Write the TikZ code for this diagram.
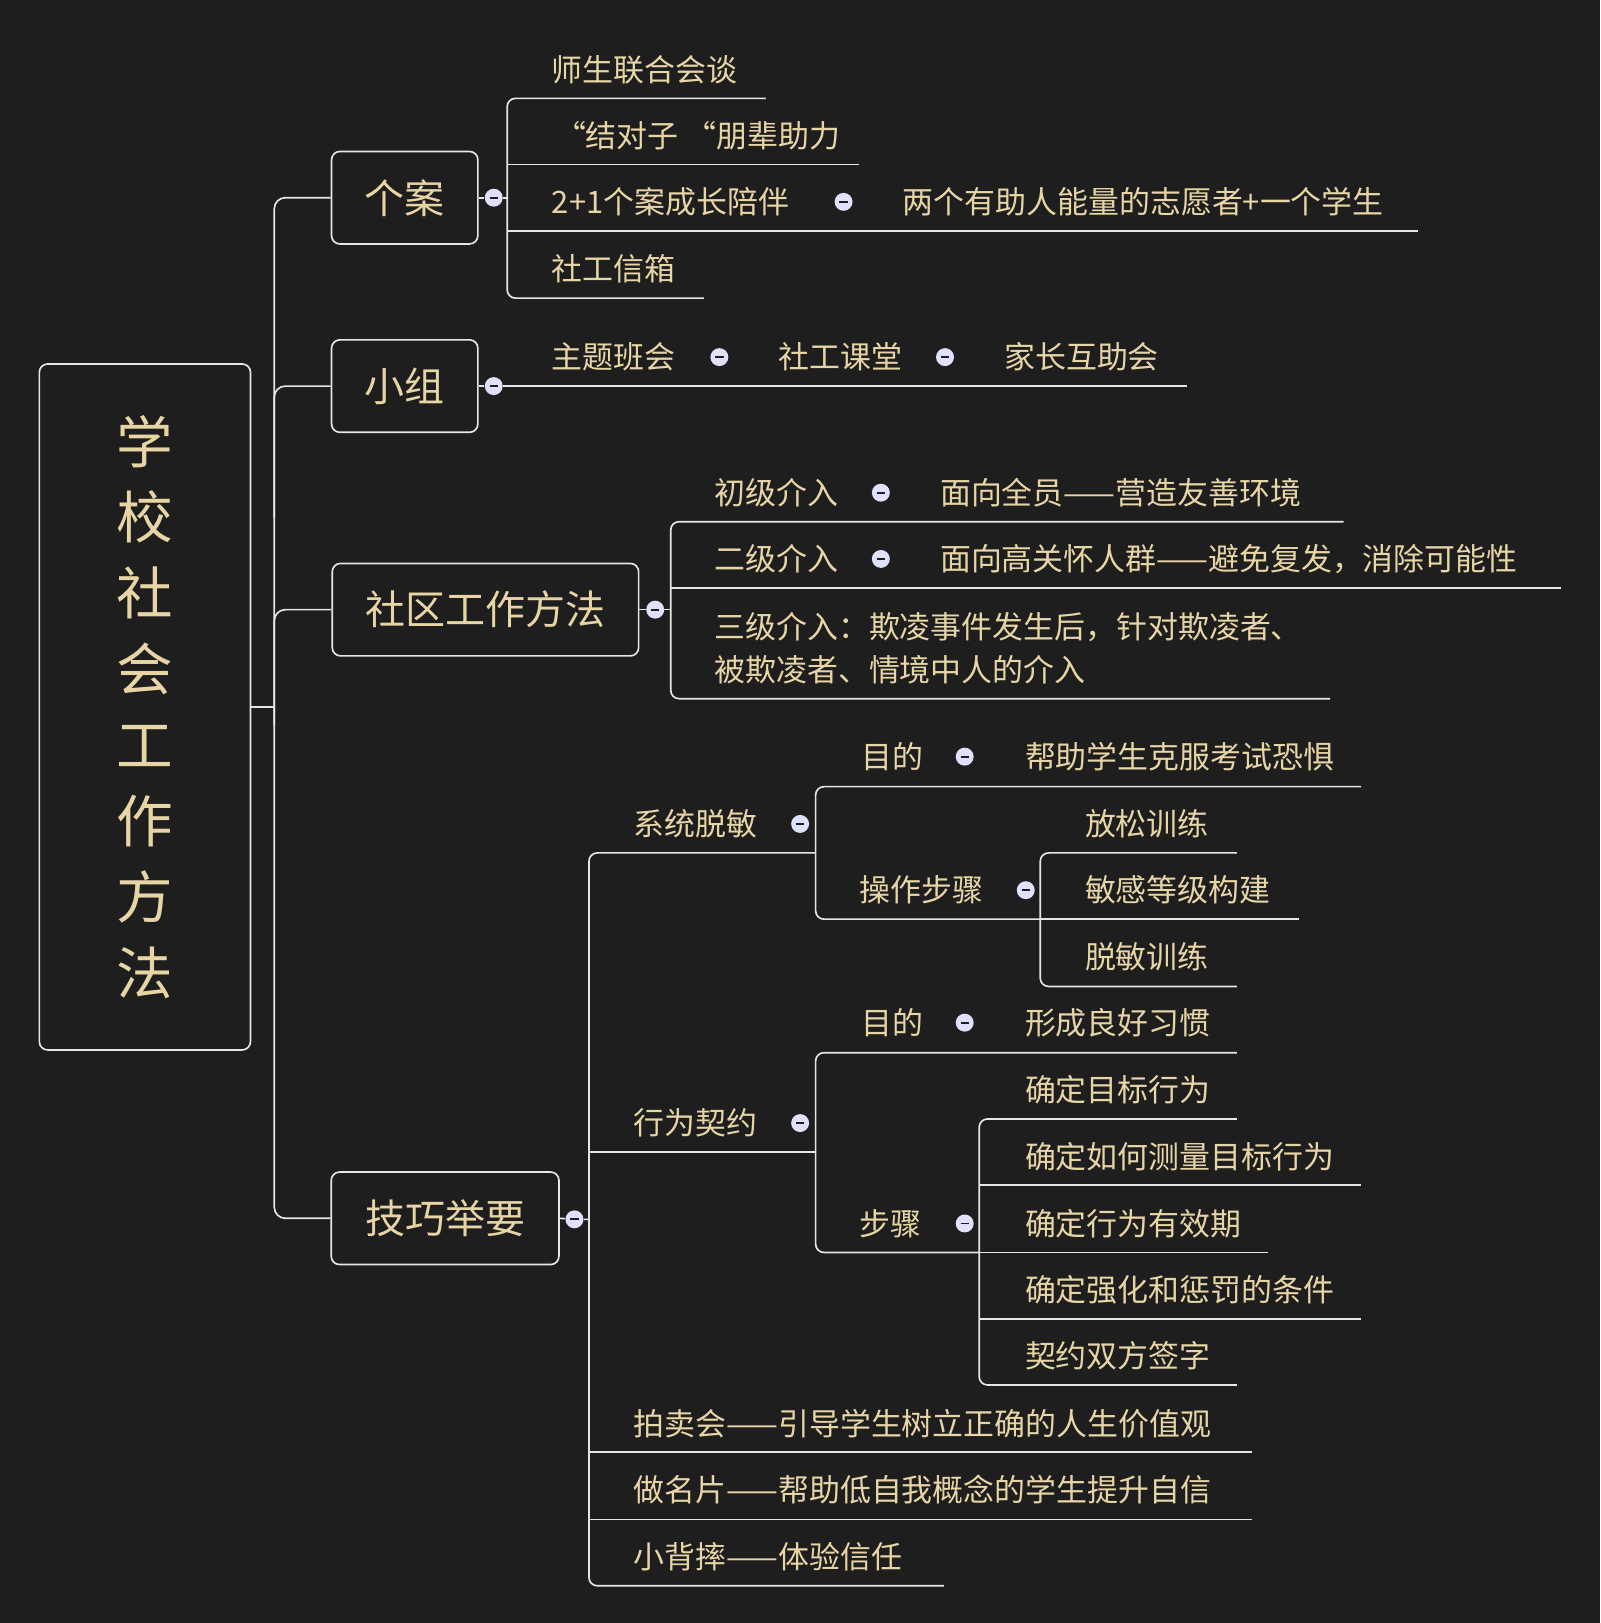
\documentclass[tikz,border=0pt]{standalone}
\usepackage{fontspec}
\setmainfont{Noto Sans CJK SC}
\usetikzlibrary{positioning}
\definecolor{bg}{HTML}{1E1E1E}
\definecolor{gold}{HTML}{E8D5A6}
\definecolor{ln}{HTML}{E6E6E6}
\tikzset{
  txt/.style={anchor=west,inner sep=0pt,text=gold,font=\fontsize{22.4}{26}\selectfont},
  box/.style={draw=ln,line width=1.2pt,rounded corners=6pt,text=gold,inner sep=0pt,font=\fontsize{29}{34}\selectfont},
  fold/.style={circle,fill=white!88!blue,inner sep=0pt,minimum size=13pt,path picture={\draw[bg,line width=1.3pt] ([xshift=-3pt]path picture bounding box.center) -- ([xshift=3pt]path picture bounding box.center);}},
  wire/.style={ln,line width=1.2pt},
}
\begin{document}
\begin{tikzpicture}[x=0.75pt,y=-0.75pt]
  \fill[bg] (0,0) rectangle (1546,1568);
  \useasboundingbox (0,0) rectangle (1546,1568);
  % root
  \node[box,minimum width=153pt,minimum height=497pt,font=\fontsize{41}{55}\selectfont,align=center] (root) at (140,683)
    {学\\校\\社\\会\\工\\作\\方\\法};
  \node[box,minimum width=106pt,minimum height=67pt] (ga) at (391,191) {个案};
  \node[box,minimum width=106pt,minimum height=67pt] (xz) at (391,373) {小组};
  \node[box,minimum width=222pt,minimum height=67pt] (sq) at (469,589) {社区工作方法};
  \node[box,minimum width=165pt,minimum height=67pt] (jq) at (430,1177) {技巧举要};
  \draw[wire,rounded corners=8pt] (ga.west) -| (265,683) |- (jq.west);
  \draw[wire,rounded corners=8pt] (xz.west) -| (265,500);
  \draw[wire,rounded corners=8pt] (sq.west) -| (265,700);
  \draw[wire] (root.east) -- (265,683);
  % 个案
  \node[fold] (f1) at (477,191) {};
  \draw[wire] (ga.east) -- (f1);
  \draw[wire] (f1) -- (490,191);
  \draw[wire,rounded corners=6pt] (740,95) -- (490,95) -- (490,288) -- (680,288);
  \draw[wire] (490,159) -- (830,159);
  \draw[wire] (490,223) -- (1370,223);
  \node[txt] (a1) at (533,67) {师生联合会谈};
  \node[txt] (a2) at (536,131) {“结对子 “朋辈助力};
  \node[txt] (a3) at (533,195) {2+1个案成长陪伴};
  \node[fold] (f2) at (815,195) {};
  \node[txt] (a31) at (872,195) {两个有助人能量的志愿者+一个学生};
  \node[txt] (a4) at (533,260) {社工信箱};
  % 小组
  \node[fold] (f3) at (477,373) {};
  \draw[wire] (xz.east) -- (f3) -- (1147,373);
  \node[txt] (b1) at (533,345) {主题班会};
  \node[fold] (f4) at (695,345) {};
  \node[txt] (b2) at (752,345) {社工课堂};
  \node[fold] (f5) at (913,345) {};
  \node[txt] (b3) at (970,345) {家长互助会};
  % 社区工作方法
  \node[fold] (f6) at (633,589) {};
  \draw[wire] (sq.east) -- (f6) -- (648,589);
  \draw[wire,rounded corners=6pt] (1298,504) -- (648,504) -- (648,675) -- (1285,675);
  \draw[wire] (648,568) -- (1508,568);
  \node[txt] (c1) at (690,476) {初级介入};
  \node[fold] (f7) at (851,476) {};
  \node[txt] (c11) at (908,476) {面向全员——营造友善环境};
  \node[txt] (c2) at (690,540) {二级介入};
  \node[fold] (f8) at (851,540) {};
  \node[txt] (c21) at (908,540) {面向高关怀人群——避免复发，消除可能性};
  \node[txt,align=left,font=\fontsize{22.4}{31}\selectfont] (c3) at (690,626)
    {三级介入：欺凌事件发生后，针对欺凌者、\\被欺凌者、情境中人的介入};
  % 技巧举要
  \node[fold] (f9) at (555,1178) {};
  \draw[wire] (jq.east) -- (f9) -- (569,1178);
  \draw[wire,rounded corners=6pt] (788,824) -- (569,824) -- (569,1532) -- (912,1532);
  \draw[wire] (569,1113) -- (788,1113);
  \draw[wire] (569,1403) -- (1210,1403);
  \draw[wire] (569,1468) -- (1210,1468);
  \node[txt] (d1) at (612,796) {系统脱敏};
  \node[fold] (f10) at (773,796) {};
  \node[txt] (d2) at (612,1085) {行为契约};
  \node[fold] (f11) at (773,1085) {};
  \node[txt] (d3) at (612,1375) {拍卖会——引导学生树立正确的人生价值观};
  \node[txt] (d4) at (612,1439) {做名片——帮助低自我概念的学生提升自信};
  \node[txt] (d5) at (612,1504) {小背摔——体验信任};
  % 系统脱敏
  \draw[wire,rounded corners=6pt] (1315,760) -- (788,760) -- (788,888) -- (1005,888);
  \node[txt] (e1) at (832,731) {目的};
  \node[fold] (f12) at (932,731) {};
  \node[txt] (e11) at (990,731) {帮助学生克服考试恐惧};
  \node[txt] (e2) at (830,860) {操作步骤};
  \node[fold] (f13) at (991,860) {};
  \draw[wire,rounded corners=6pt] (1195,824) -- (1005,824) -- (1005,953) -- (1195,953);
  \draw[wire] (1005,888) -- (1255,888);
  \node[txt] (e21) at (1048,796) {放松训练};
  \node[txt] (e22) at (1048,860) {敏感等级构建};
  \node[txt] (e23) at (1048,924) {脱敏训练};
  % 行为契约
  \draw[wire,rounded corners=6pt] (1195,1017) -- (788,1017) -- (788,1210) -- (946,1210);
  \node[txt] (g1) at (832,988) {目的};
  \node[fold] (f14) at (932,988) {};
  \node[txt] (g11) at (990,988) {形成良好习惯};
  \node[txt] (g2) at (830,1182) {步骤};
  \node[fold] (f15) at (932,1182) {};
  \draw[wire,rounded corners=6pt] (1195,1081) -- (946,1081) -- (946,1338) -- (1195,1338);
  \draw[wire] (946,1145) -- (1315,1145);
  \draw[wire] (946,1210) -- (1225,1210);
  \draw[wire] (946,1274) -- (1315,1274);
  \node[txt] (g21) at (990,1053) {确定目标行为};
  \node[txt] (g22) at (990,1117) {确定如何测量目标行为};
  \node[txt] (g23) at (990,1182) {确定行为有效期};
  \node[txt] (g24) at (990,1246) {确定强化和惩罚的条件};
  \node[txt] (g25) at (990,1310) {契约双方签字};
\end{tikzpicture}
\end{document}
